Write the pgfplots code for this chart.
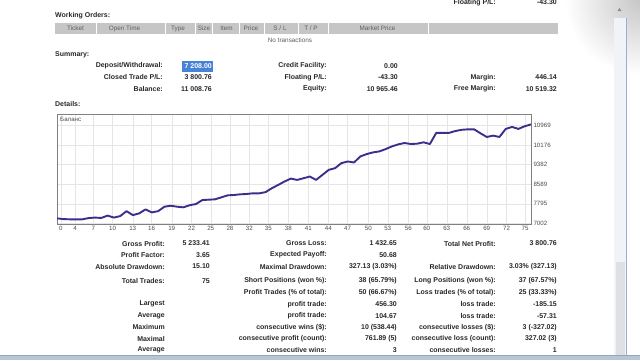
\documentclass[border=0pt]{standalone}
\usepackage{fontspec}
\setmainfont{Liberation Sans}
\usepackage{pgfplots}
\pgfplotsset{compat=1.18}
\usepackage{pgfplotstable}
\definecolor{txt}{RGB}{40,40,40}
\definecolor{hdr}{RGB}{198,198,198}
\definecolor{hdrtxt}{RGB}{95,95,95}
\definecolor{bal}{RGB}{58,48,140}
\definecolor{hl}{RGB}{70,130,215}
\definecolor{sb}{RGB}{240,243,248}
\definecolor{sbl}{RGB}{150,175,210}
\definecolor{thumb}{RGB}{222,224,228}
\definecolor{botbar}{RGB}{185,196,212}
\definecolor{botline}{RGB}{150,165,190}
\pgfplotstableread{
i v
0 7208
1 7180
2 7170
3 7170
4 7170
5 7220
6 7240
7 7225
8 7320
9 7240
10 7300
11 7500
12 7340
13 7410
14 7570
15 7450
16 7500
17 7680
18 7720
19 7680
20 7655
21 7740
22 7790
23 7950
24 7964
25 7978
26 8059
27 8140
28 8154
29 8181
30 8195
31 8222
32 8222
33 8270
34 8430
35 8561
36 8700
37 8818
38 8764
39 8832
40 8900
41 8764
42 8968
43 9171
44 9239
45 9443
46 9510
47 9470
48 9714
49 9809
50 9877
51 9917
52 10010
53 10120
54 10202
55 10257
56 10216
57 10230
58 10284
59 10216
60 10664
61 10664
62 10664
63 10740
64 10790
65 10810
66 10810
67 10650
68 10501
69 10555
70 10501
71 10827
72 10908
73 10827
74 10935
75 11009
}\baldata
\newcommand\fs{\fontsize{7}{8}\selectfont}
\newcommand\rt[3]{\node[anchor=east,inner sep=0pt,font=\fs\bfseries,text=txt] at (#1,#2) {#3};}
\newcommand\lt[3]{\node[anchor=west,inner sep=0pt,font=\fs\bfseries,text=txt] at (#1,#2) {#3};}
\newcommand\hd[3]{\node[inner sep=0pt,font=\fontsize{6.4}{7}\selectfont,text=hdrtxt] at (#1,#2) {#3};}
\newcommand\row[7]{\rt{165}{#1}{#2}\rt{210}{#1}{#3}\rt{327}{#1}{#4}\rt{397}{#1}{#5}\rt{496}{#1}{#6}\rt{557}{#1}{#7}}
\begin{document}
\begin{tikzpicture}[x=1bp,y=-1bp]
\useasboundingbox (0,0) rectangle (640,360);
\clip (0,0) rectangle (640,360);
\fill[white] (0,0) rectangle (640,360);
\shade[inner color=black!22, outer color=white] (640,0) circle (75);
% scrollbar
\fill[sb] (614,18) rectangle (626,355);
\fill[thumb] (615.5,262) rectangle (624.5,355);
\draw[sbl, line width=0.8pt] (626,18) -- (626,355);
\fill[black!45] (617.5,11) -- (621.5,11) -- (619.5,8) -- cycle;
% bottom bar
\fill[botbar] (0,355.5) rectangle (640,360);
\draw[botline, line width=0.5pt] (0,355.5) -- (640,355.5);
% top partial row
\rt{496}{2.5}{Floating P/L:}
\rt{557}{2.5}{-43.30}
% working orders
\lt{55}{16}{Working Orders:}
\fill[hdr] (55,23) rectangle (558,34);
\foreach \s in {96,165,195,212,239,264.5,298,328.6,428.6}{\draw[white, line width=0.8pt] (\s,23) -- (\s,34);}
\hd{75.5}{28.5}{Ticket}
\hd{124.5}{28.5}{Open Time}
\hd{178}{28.5}{Type}
\hd{204}{28.5}{Size}
\hd{226.5}{28.5}{Item}
\hd{251}{28.5}{Price}
\hd{280}{28.5}{S / L}
\hd{311}{28.5}{T / P}
\hd{377.5}{28.5}{Market Price}
\node[inner sep=0pt,font=\fontsize{6.4}{7}\selectfont,text=hdrtxt] at (290,40) {No transactions};
% summary
\lt{55}{55}{Summary:}
\fill[hl] (182,61) rectangle (213,71.5);
\rt{163}{66}{Deposit/Withdrawal:}
\node[anchor=east,inner sep=0pt,font=\fs\bfseries,text=white] at (212,66) {7 208.00};
\rt{327}{66}{Credit Facility:}
\rt{398}{66}{0.00}
\rt{163}{77.5}{Closed Trade P/L:}
\rt{212}{77.5}{3 800.76}
\rt{327}{77.5}{Floating P/L:}
\rt{398}{77.5}{-43.30}
\rt{496}{77.5}{Margin:}
\rt{557}{77.5}{446.14}
\rt{163}{89}{Balance:}
\rt{212}{89}{11 008.76}
\rt{327}{89}{Equity:}
\rt{398}{89}{10 965.46}
\rt{496}{89}{Free Margin:}
\rt{557}{89}{10 519.32}
\lt{55}{104}{Details:}
% chart
\begin{axis}[at={(57bp,-114bp)}, anchor=north west, width=474bp, height=110bp, scale only axis,
  xmin=0, xmax=75, ymin=6980, ymax=11430,
  xtick={0.59,2.85,5.74,8.81,11.98,14.98,18.15,21.31,24.32,27.37,30.43,33.43,36.6,39.76,42.93,45.99,49.26,52.33,55.59,58.5,61.66,64.83,67.99,71.15,74.05},
  xticklabels={0,4,7,10,13,16,19,22,25,28,32,35,38,41,44,47,50,53,56,60,63,66,69,72,75},
  ytick={7002,7795,8589,9382,10176,10969},
  yticklabels={7002,7795,8589,9382,10176,10969},
  scaled y ticks=false, scaled x ticks=false,
  yticklabel pos=right,
  /pgf/number format/assume math mode=true,
  tick label style={font=\fontsize{6.2}{7}\selectfont, text=black!70},
  xticklabel style={yshift=1pt},
  yticklabel style={xshift=-1pt},
  major tick length=0pt,
  grid=major, grid style={black!10, line width=0.4pt},
  axis line style={black!50, line width=0.6pt},
  clip=true]
\addplot[bal, line width=1.9pt, line join=round] table[x=i,y=v] {\baldata};
\end{axis}
\node[anchor=north west,inner sep=0pt,font=\fontsize{6.2}{7}\selectfont,text=black!70] at (60,117) {Баланс};
% details
\row{243.5}{Gross Profit:}{5 233.41}{Gross Loss:}{1 432.65}{Total Net Profit:}{3 800.76}
\row{255}{Profit Factor:}{3.65}{Expected Payoff:}{50.68}{}{}
\row{266.5}{Absolute Drawdown:}{15.10}{Maximal Drawdown:}{327.13 (3.03\%)}{Relative Drawdown:}{3.03\% (327.13)}
\row{281}{Total Trades:}{75}{Short Positions (won \%):}{38 (65.79\%)}{Long Positions (won \%):}{37 (67.57\%)}
\row{292.7}{}{}{Profit Trades (\% of total):}{50 (66.67\%)}{Loss trades (\% of total):}{25 (33.33\%)}
\row{304.3}{Largest}{}{profit trade:}{456.30}{loss trade:}{-185.15}
\row{315.8}{Average}{}{profit trade:}{104.67}{loss trade:}{-57.31}
\row{327.3}{Maximum}{}{consecutive wins (\$):}{10 (538.44)}{consecutive losses (\$):}{3 (-327.02)}
\row{338.8}{Maximal}{}{consecutive profit (count):}{761.89 (5)}{consecutive loss (count):}{327.02 (3)}
\row{350.3}{Average}{}{consecutive wins:}{3}{consecutive losses:}{1}
\end{tikzpicture}
\end{document}
